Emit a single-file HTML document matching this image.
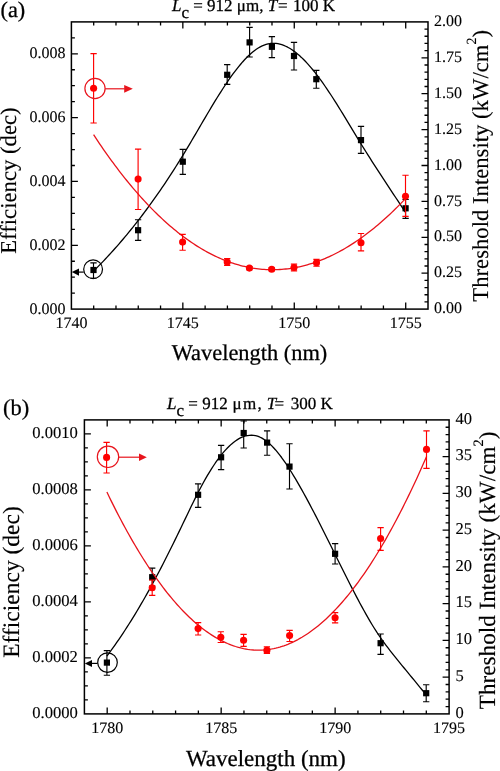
<!DOCTYPE html><html><head><meta charset="utf-8"><style>html,body{margin:0;padding:0;background:#fff;}svg{display:block;} text{font-family:"Liberation Serif","Times New Roman",serif;text-rendering:geometricPrecision;stroke:#000;stroke-width:0.28px;} text.t{stroke-width:0.12px;} text.v{stroke-width:0.15px;}</style></head><body><svg width="500" height="771" viewBox="0 0 500 771" font-family="Liberation Serif, Times New Roman, serif">
<rect width="500" height="771" fill="#fff"/>
<rect x="71.4" y="21.9" width="356.6" height="287.2" fill="none" stroke="#000" stroke-width="1.5"/>
<path d="M93.69 309.1v-3.5M93.69 21.9v3.5M115.98 309.1v-3.5M115.98 21.9v3.5M138.26 309.1v-3.5M138.26 21.9v3.5M160.55 309.1v-3.5M160.55 21.9v3.5M182.84 309.1v-6.5M182.84 21.9v6.5M205.13 309.1v-3.5M205.13 21.9v3.5M227.41 309.1v-3.5M227.41 21.9v3.5M249.7 309.1v-3.5M249.7 21.9v3.5M271.99 309.1v-3.5M271.99 21.9v3.5M294.27 309.1v-6.5M294.27 21.9v6.5M316.56 309.1v-3.5M316.56 21.9v3.5M338.85 309.1v-3.5M338.85 21.9v3.5M361.14 309.1v-3.5M361.14 21.9v3.5M383.43 309.1v-3.5M383.43 21.9v3.5M405.71 309.1v-6.5M405.71 21.9v6.5M71.4 293.14h3.5M71.4 277.19h3.5M71.4 261.23h3.5M71.4 245.28h6.5M71.4 229.32h3.5M71.4 213.37h3.5M71.4 197.41h3.5M71.4 181.46h6.5M71.4 165.5h3.5M71.4 149.54h3.5M71.4 133.59h3.5M71.4 117.63h6.5M71.4 101.68h3.5M71.4 85.72h3.5M71.4 69.77h3.5M71.4 53.81h6.5M71.4 37.86h3.5M428 301.92h-3.5M428 294.74h-3.5M428 287.56h-3.5M428 280.38h-3.5M428 273.2h-6.5M428 266.02h-3.5M428 258.84h-3.5M428 251.66h-3.5M428 244.48h-3.5M428 237.3h-6.5M428 230.12h-3.5M428 222.94h-3.5M428 215.76h-3.5M428 208.58h-3.5M428 201.4h-6.5M428 194.22h-3.5M428 187.04h-3.5M428 179.86h-3.5M428 172.68h-3.5M428 165.5h-6.5M428 158.32h-3.5M428 151.14h-3.5M428 143.96h-3.5M428 136.78h-3.5M428 129.6h-6.5M428 122.42h-3.5M428 115.24h-3.5M428 108.06h-3.5M428 100.88h-3.5M428 93.7h-6.5M428 86.52h-3.5M428 79.34h-3.5M428 72.16h-3.5M428 64.98h-3.5M428 57.8h-6.5M428 50.62h-3.5M428 43.44h-3.5M428 36.26h-3.5M428 29.08h-3.5" stroke="#000" stroke-width="1.3" fill="none"/>
<text x="71.4" y="327.6" text-anchor="middle" font-size="16" class="t">1740</text>
<text x="182.84" y="327.6" text-anchor="middle" font-size="16" class="t">1745</text>
<text x="294.27" y="327.6" text-anchor="middle" font-size="16" class="t">1750</text>
<text x="405.71" y="327.6" text-anchor="middle" font-size="16" class="t">1755</text>
<text x="65.4" y="313.7" text-anchor="end" font-size="16" class="t">0.000</text>
<text x="65.4" y="249.88" text-anchor="end" font-size="16" class="t">0.002</text>
<text x="65.4" y="186.06" text-anchor="end" font-size="16" class="t">0.004</text>
<text x="65.4" y="122.23" text-anchor="end" font-size="16" class="t">0.006</text>
<text x="65.4" y="58.41" text-anchor="end" font-size="16" class="t">0.008</text>
<text x="434" y="313.2" text-anchor="start" font-size="16" class="t">0.00</text>
<text x="434" y="277.3" text-anchor="start" font-size="16" class="t">0.25</text>
<text x="434" y="241.4" text-anchor="start" font-size="16" class="t">0.50</text>
<text x="434" y="205.5" text-anchor="start" font-size="16" class="t">0.75</text>
<text x="434" y="169.6" text-anchor="start" font-size="16" class="t">1.00</text>
<text x="434" y="133.7" text-anchor="start" font-size="16" class="t">1.25</text>
<text x="434" y="97.8" text-anchor="start" font-size="16" class="t">1.50</text>
<text x="434" y="61.9" text-anchor="start" font-size="16" class="t">1.75</text>
<text x="434" y="26" text-anchor="start" font-size="16" class="t">2.00</text>
<rect x="84.4" y="419.9" width="364.7" height="294" fill="none" stroke="#000" stroke-width="1.5"/>
<path d="M107.19 713.9v-6.5M107.19 419.9v6.5M129.99 713.9v-3.5M129.99 419.9v3.5M152.78 713.9v-3.5M152.78 419.9v3.5M175.58 713.9v-3.5M175.58 419.9v3.5M198.37 713.9v-3.5M198.37 419.9v3.5M221.16 713.9v-6.5M221.16 419.9v6.5M243.96 713.9v-3.5M243.96 419.9v3.5M266.75 713.9v-3.5M266.75 419.9v3.5M289.54 713.9v-3.5M289.54 419.9v3.5M312.34 713.9v-3.5M312.34 419.9v3.5M335.13 713.9v-6.5M335.13 419.9v6.5M357.93 713.9v-3.5M357.93 419.9v3.5M380.72 713.9v-3.5M380.72 419.9v3.5M403.51 713.9v-3.5M403.51 419.9v3.5M426.31 713.9v-3.5M426.31 419.9v3.5M84.4 699.9h3.5M84.4 685.9h3.5M84.4 671.9h3.5M84.4 657.9h6.5M84.4 643.9h3.5M84.4 629.9h3.5M84.4 615.9h3.5M84.4 601.9h6.5M84.4 587.9h3.5M84.4 573.9h3.5M84.4 559.9h3.5M84.4 545.9h6.5M84.4 531.9h3.5M84.4 517.9h3.5M84.4 503.9h3.5M84.4 489.9h6.5M84.4 475.9h3.5M84.4 461.9h3.5M84.4 447.9h3.5M84.4 433.9h6.5M449.1 706.55h-3.5M449.1 699.2h-3.5M449.1 691.85h-3.5M449.1 684.5h-3.5M449.1 677.15h-6.5M449.1 669.8h-3.5M449.1 662.45h-3.5M449.1 655.1h-3.5M449.1 647.75h-3.5M449.1 640.4h-6.5M449.1 633.05h-3.5M449.1 625.7h-3.5M449.1 618.35h-3.5M449.1 611h-3.5M449.1 603.65h-6.5M449.1 596.3h-3.5M449.1 588.95h-3.5M449.1 581.6h-3.5M449.1 574.25h-3.5M449.1 566.9h-6.5M449.1 559.55h-3.5M449.1 552.2h-3.5M449.1 544.85h-3.5M449.1 537.5h-3.5M449.1 530.15h-6.5M449.1 522.8h-3.5M449.1 515.45h-3.5M449.1 508.1h-3.5M449.1 500.75h-3.5M449.1 493.4h-6.5M449.1 486.05h-3.5M449.1 478.7h-3.5M449.1 471.35h-3.5M449.1 464h-3.5M449.1 456.65h-6.5M449.1 449.3h-3.5M449.1 441.95h-3.5M449.1 434.6h-3.5M449.1 427.25h-3.5" stroke="#000" stroke-width="1.3" fill="none"/>
<text x="107.19" y="732.9" text-anchor="middle" font-size="16" class="t">1780</text>
<text x="221.16" y="732.9" text-anchor="middle" font-size="16" class="t">1785</text>
<text x="335.13" y="732.9" text-anchor="middle" font-size="16" class="t">1790</text>
<text x="449.1" y="732.9" text-anchor="middle" font-size="16" class="t">1795</text>
<text x="77.9" y="718.1" text-anchor="end" font-size="16.6" class="t">0.0000</text>
<text x="77.9" y="662.1" text-anchor="end" font-size="16.6" class="t">0.0002</text>
<text x="77.9" y="606.1" text-anchor="end" font-size="16.6" class="t">0.0004</text>
<text x="77.9" y="550.1" text-anchor="end" font-size="16.6" class="t">0.0006</text>
<text x="77.9" y="494.1" text-anchor="end" font-size="16.6" class="t">0.0008</text>
<text x="77.9" y="438.1" text-anchor="end" font-size="16.6" class="t">0.0010</text>
<text x="455.6" y="717.7" text-anchor="start" font-size="16.5" class="t">0</text>
<text x="455.6" y="680.95" text-anchor="start" font-size="16.5" class="t">5</text>
<text x="455.6" y="644.2" text-anchor="start" font-size="16.5" class="t">10</text>
<text x="455.6" y="607.45" text-anchor="start" font-size="16.5" class="t">15</text>
<text x="455.6" y="570.7" text-anchor="start" font-size="16.5" class="t">20</text>
<text x="455.6" y="533.95" text-anchor="start" font-size="16.5" class="t">25</text>
<text x="455.6" y="497.2" text-anchor="start" font-size="16.5" class="t">30</text>
<text x="455.6" y="460.45" text-anchor="start" font-size="16.5" class="t">35</text>
<text x="455.6" y="423.7" text-anchor="start" font-size="16.5" class="t">40</text>
<polyline points="93.6,271.06 95.56,269.12 97.52,267.14 99.48,265.15 101.44,263.13 103.4,261.08 105.36,259.01 107.32,256.92 109.28,254.8 111.24,252.65 113.2,250.48 115.16,248.29 117.12,246.06 119.08,243.82 121.05,241.54 123.01,239.24 124.97,236.91 126.93,234.56 128.89,232.18 130.85,229.77 132.81,227.34 134.77,224.87 136.73,222.38 138.69,219.87 140.65,217.32 142.61,214.75 144.57,212.15 146.53,209.51 148.49,206.86 150.45,204.17 152.41,201.45 154.37,198.7 156.33,195.93 158.29,193.12 160.25,190.29 162.21,187.43 164.17,184.53 166.13,181.61 168.09,178.65 170.05,175.67 172.02,172.65 173.98,169.6 175.94,166.52 177.9,163.41 179.86,160.27 181.82,157.1 183.78,153.9 185.74,150.66 187.7,147.39 189.66,144.1 191.62,140.78 193.58,137.45 195.54,134.11 197.5,130.75 199.46,127.4 201.42,124.04 203.38,120.69 205.34,117.35 207.3,114.02 209.26,110.72 211.22,107.43 213.18,104.18 215.14,100.96 217.1,97.78 219.06,94.64 221.02,91.54 222.98,88.5 224.95,85.51 226.91,82.59 228.87,79.73 230.83,76.94 232.79,74.22 234.75,71.59 236.71,69.04 238.67,66.58 240.63,64.22 242.59,61.95 244.55,59.79 246.51,57.74 248.47,55.81 250.43,53.99 252.39,52.3 254.35,50.74 256.31,49.32 258.27,48.03 260.23,46.89 262.19,45.9 264.15,45.06 266.11,44.38 268.07,43.87 270.03,43.52 271.99,43.33 273.95,43.3 275.92,43.43 277.88,43.7 279.84,44.12 281.8,44.69 283.76,45.39 285.72,46.23 287.68,47.2 289.64,48.3 291.6,49.53 293.56,50.87 295.52,52.34 297.48,53.91 299.44,55.6 301.4,57.4 303.36,59.3 305.32,61.3 307.28,63.4 309.24,65.58 311.2,67.86 313.16,70.23 315.12,72.67 317.08,75.19 319.04,77.79 321,80.46 322.96,83.2 324.92,86 326.88,88.86 328.85,91.77 330.81,94.74 332.77,97.76 334.73,100.83 336.69,103.93 338.65,107.07 340.61,110.24 342.57,113.44 344.53,116.65 346.49,119.89 348.45,123.13 350.41,126.38 352.37,129.63 354.33,132.87 356.29,136.11 358.25,139.33 360.21,142.54 362.17,145.72 364.13,148.87 366.09,152.01 368.05,155.12 370.01,158.21 371.97,161.28 373.93,164.33 375.89,167.37 377.85,170.4 379.82,173.41 381.78,176.41 383.74,179.41 385.7,182.39 387.66,185.37 389.62,188.35 391.58,191.32 393.54,194.29 395.5,197.25 397.46,200.22 399.42,203.2 401.38,206.18 403.34,209.16 405.3,212.15" fill="none" stroke="#000" stroke-width="1.3" stroke-linejoin="round"/>
<path d="M93.5 262.8V278.2M90.35 262.8h6.3M90.35 278.2h6.3M138.1 219.7V240.4M134.95 219.7h6.3M134.95 240.4h6.3M182.8 149.4V174.3M179.65 149.4h6.3M179.65 174.3h6.3M227.2 64.6V84.4M224.05 64.6h6.3M224.05 84.4h6.3M249.6 27.4V57M246.45 27.4h6.3M246.45 57h6.3M271.9 36.6V57.6M268.75 36.6h6.3M268.75 57.6h6.3M294 42.4V70M290.85 42.4h6.3M290.85 70h6.3M316.3 70.4V88.2M313.15 70.4h6.3M313.15 88.2h6.3M361 126.3V153.3M357.85 126.3h6.3M357.85 153.3h6.3M405.6 199.5V218.3M402.45 199.5h6.3M402.45 218.3h6.3" stroke="#000" stroke-width="1.15" fill="none"/>
<rect x="90.4" y="266.9" width="6.2" height="6.2" fill="#000"/>
<rect x="135" y="227.1" width="6.2" height="6.2" fill="#000"/>
<rect x="179.7" y="158.6" width="6.2" height="6.2" fill="#000"/>
<rect x="224.1" y="71.7" width="6.2" height="6.2" fill="#000"/>
<rect x="246.5" y="39.3" width="6.2" height="6.2" fill="#000"/>
<rect x="268.8" y="43.7" width="6.2" height="6.2" fill="#000"/>
<rect x="290.9" y="52.9" width="6.2" height="6.2" fill="#000"/>
<rect x="313.2" y="76.1" width="6.2" height="6.2" fill="#000"/>
<rect x="357.9" y="137" width="6.2" height="6.2" fill="#000"/>
<rect x="402.5" y="205.2" width="6.2" height="6.2" fill="#000"/>
<polyline points="93.6,134.7 95.56,137.68 97.52,140.63 99.48,143.54 101.44,146.41 103.4,149.26 105.36,152.07 107.32,154.84 109.28,157.58 111.24,160.29 113.2,162.97 115.16,165.61 117.12,168.21 119.08,170.79 121.05,173.32 123.01,175.83 124.97,178.3 126.93,180.74 128.89,183.14 130.85,185.51 132.81,187.85 134.77,190.15 136.73,192.42 138.69,194.66 140.65,196.86 142.61,199.03 144.57,201.17 146.53,203.27 148.49,205.34 150.45,207.38 152.41,209.38 154.37,211.35 156.33,213.29 158.29,215.19 160.25,217.06 162.21,218.9 164.17,220.7 166.13,222.47 168.09,224.21 170.05,225.92 172.02,227.59 173.98,229.23 175.94,230.83 177.9,232.41 179.86,233.95 181.82,235.45 183.78,236.93 185.74,238.37 187.7,239.78 189.66,241.15 191.62,242.5 193.58,243.81 195.54,245.09 197.5,246.33 199.46,247.54 201.42,248.72 203.38,249.87 205.34,250.99 207.3,252.07 209.26,253.12 211.22,254.14 213.18,255.12 215.14,256.07 217.1,256.99 219.06,257.88 221.02,258.74 222.98,259.56 224.95,260.35 226.91,261.11 228.87,261.84 230.83,262.53 232.79,263.19 234.75,263.82 236.71,264.42 238.67,264.99 240.63,265.52 242.59,266.02 244.55,266.49 246.51,266.93 248.47,267.34 250.43,267.71 252.39,268.05 254.35,268.36 256.31,268.64 258.27,268.89 260.23,269.1 262.19,269.29 264.15,269.44 266.11,269.56 268.07,269.65 270.03,269.7 271.99,269.73 273.95,269.72 275.92,269.69 277.88,269.62 279.84,269.51 281.8,269.38 283.76,269.22 285.72,269.02 287.68,268.8 289.64,268.54 291.6,268.25 293.56,267.93 295.52,267.58 297.48,267.19 299.44,266.78 301.4,266.33 303.36,265.86 305.32,265.35 307.28,264.81 309.24,264.24 311.2,263.64 313.16,263.01 315.12,262.34 317.08,261.65 319.04,260.92 321,260.17 322.96,259.38 324.92,258.56 326.88,257.72 328.85,256.84 330.81,255.93 332.77,254.99 334.73,254.02 336.69,253.01 338.65,251.98 340.61,250.92 342.57,249.82 344.53,248.7 346.49,247.54 348.45,246.36 350.41,245.14 352.37,243.9 354.33,242.62 356.29,241.31 358.25,239.97 360.21,238.6 362.17,237.21 364.13,235.78 366.09,234.32 368.05,232.83 370.01,231.31 371.97,229.76 373.93,228.18 375.89,226.57 377.85,224.93 379.82,223.26 381.78,221.56 383.74,219.83 385.7,218.07 387.66,216.28 389.62,214.46 391.58,212.61 393.54,210.73 395.5,208.82 397.46,206.88 399.42,204.91 401.38,202.91 403.34,200.88 405.3,198.82" fill="none" stroke="#e8141c" stroke-width="1.3" stroke-linejoin="round"/>
<path d="M93.6 53.6V123M90.45 53.6h6.3M90.45 123h6.3M138.1 149.1V209.5M134.95 149.1h6.3M134.95 209.5h6.3M182.6 234.3V250.2M179.45 234.3h6.3M179.45 250.2h6.3M227.2 258.6V265.4M224.05 258.6h6.3M224.05 265.4h6.3M249.4 266.5V269.7M246.25 266.5h6.3M246.25 269.7h6.3M271.7 267.8V270.6M268.55 267.8h6.3M268.55 270.6h6.3M294 264.1V270.9M290.85 264.1h6.3M290.85 270.9h6.3M316.5 259.4V266.2M313.35 259.4h6.3M313.35 266.2h6.3M361 233.5V250.8M357.85 233.5h6.3M357.85 250.8h6.3M405.5 175.2V216.3M402.35 175.2h6.3M402.35 216.3h6.3" stroke="#ff0000" stroke-width="1.15" fill="none"/>
<circle cx="93.6" cy="88.2" r="3.55" fill="#ff0000"/>
<circle cx="138.1" cy="179.1" r="3.55" fill="#ff0000"/>
<circle cx="182.6" cy="242.1" r="3.55" fill="#ff0000"/>
<circle cx="227.2" cy="262" r="3.55" fill="#ff0000"/>
<circle cx="249.4" cy="268.1" r="3.55" fill="#ff0000"/>
<circle cx="271.7" cy="269.2" r="3.55" fill="#ff0000"/>
<circle cx="294" cy="267.5" r="3.55" fill="#ff0000"/>
<circle cx="316.5" cy="262.8" r="3.55" fill="#ff0000"/>
<circle cx="361" cy="242.7" r="3.55" fill="#ff0000"/>
<circle cx="405.5" cy="196.3" r="3.55" fill="#ff0000"/>
<circle cx="95" cy="88.5" r="10.1" fill="none" stroke="#e8141c" stroke-width="1.2"/>
<path d="M105.1 88.8H124.7" stroke="#e8141c" stroke-width="1.2"/>
<path d="M132.8 88.8L124.2 84.9V92.7Z" fill="#e8141c"/>
<circle cx="93.1" cy="269.2" r="9.4" fill="none" stroke="#000" stroke-width="1.2"/>
<path d="M83.7 272.1H78.5" stroke="#000" stroke-width="1.2"/>
<path d="M71.8 272.1L79 268.4V275.8Z" fill="#000"/>
<polyline points="106.9,656.18 108.91,653.47 110.92,650.73 112.92,647.93 114.93,645.1 116.94,642.22 118.95,639.29 120.96,636.32 122.97,633.31 124.97,630.25 126.98,627.15 128.99,624 131,620.81 133.01,617.57 135.01,614.29 137.02,610.97 139.03,607.6 141.04,604.18 143.05,600.72 145.06,597.22 147.06,593.67 149.07,590.07 151.08,586.44 153.09,582.75 155.1,579.02 157.1,575.25 159.11,571.43 161.12,567.58 163.13,563.68 165.14,559.75 167.15,555.78 169.15,551.78 171.16,547.75 173.17,543.69 175.18,539.61 177.19,535.5 179.19,531.37 181.2,527.22 183.21,523.05 185.22,518.87 187.23,514.67 189.24,510.49 191.24,506.32 193.25,502.2 195.26,498.13 197.27,494.14 199.28,490.24 201.28,486.44 203.29,482.74 205.3,479.16 207.31,475.68 209.32,472.33 211.33,469.09 213.33,465.98 215.34,462.99 217.35,460.14 219.36,457.42 221.37,454.83 223.37,452.39 225.38,450.1 227.39,447.96 229.4,445.97 231.41,444.13 233.42,442.46 235.42,440.95 237.43,439.6 239.44,438.43 241.45,437.44 243.46,436.62 245.46,435.99 247.47,435.54 249.48,435.28 251.49,435.22 253.5,435.35 255.51,435.68 257.51,436.22 259.52,436.97 261.53,437.92 263.54,439.09 265.55,440.45 267.55,442 269.56,443.74 271.57,445.65 273.58,447.72 275.59,449.95 277.59,452.33 279.6,454.86 281.61,457.51 283.62,460.3 285.63,463.19 287.64,466.2 289.64,469.31 291.65,472.51 293.66,475.8 295.67,479.16 297.68,482.59 299.68,486.08 301.69,489.63 303.7,493.24 305.71,496.91 307.72,500.62 309.73,504.38 311.73,508.18 313.74,512.03 315.75,515.9 317.76,519.82 319.77,523.75 321.77,527.72 323.78,531.71 325.79,535.71 327.8,539.73 329.81,543.76 331.82,547.8 333.82,551.84 335.83,555.89 337.84,559.93 339.85,563.97 341.86,567.99 343.86,572 345.87,576 347.88,579.98 349.89,583.93 351.9,587.86 353.91,591.75 355.91,595.61 357.92,599.42 359.93,603.19 361.94,606.9 363.95,610.56 365.95,614.15 367.96,617.66 369.97,621.1 371.98,624.46 373.99,627.73 376,630.91 378,633.99 380.01,636.96 382.02,639.83 384.03,642.61 386.04,645.31 388.04,647.94 390.05,650.53 392.06,653.08 394.07,655.6 396.08,658.11 398.09,660.6 400.09,663.07 402.1,665.54 404.11,668 406.12,670.45 408.13,672.89 410.13,675.33 412.14,677.77 414.15,680.21 416.16,682.65 418.17,685.09 420.18,687.54 422.18,689.99 424.19,692.46 426.2,694.94" fill="none" stroke="#000" stroke-width="1.3" stroke-linejoin="round"/>
<path d="M106.9 650.6V675.2M103.75 650.6h6.3M103.75 675.2h6.3M152.2 568.1V586M149.05 568.1h6.3M149.05 586h6.3M198.1 483.8V507.3M194.95 483.8h6.3M194.95 507.3h6.3M221.1 445.3V469.6M217.95 445.3h6.3M217.95 469.6h6.3M243.7 421V448M240.55 421h6.3M240.55 448h6.3M267.1 430.9V455.2M263.95 430.9h6.3M263.95 455.2h6.3M289.5 443.7V489M286.35 443.7h6.3M286.35 489h6.3M335.1 543.6V564M331.95 543.6h6.3M331.95 564h6.3M380.6 634V654.4M377.45 634h6.3M377.45 654.4h6.3M426.2 684.7V701.7M423.05 684.7h6.3M423.05 701.7h6.3" stroke="#000" stroke-width="1.15" fill="none"/>
<rect x="103.8" y="659.5" width="6.2" height="6.2" fill="#000"/>
<rect x="149.1" y="574.1" width="6.2" height="6.2" fill="#000"/>
<rect x="195" y="491.7" width="6.2" height="6.2" fill="#000"/>
<rect x="218" y="454.2" width="6.2" height="6.2" fill="#000"/>
<rect x="240.6" y="429.9" width="6.2" height="6.2" fill="#000"/>
<rect x="264" y="439.5" width="6.2" height="6.2" fill="#000"/>
<rect x="286.4" y="463.5" width="6.2" height="6.2" fill="#000"/>
<rect x="332" y="550.7" width="6.2" height="6.2" fill="#000"/>
<rect x="377.5" y="640.1" width="6.2" height="6.2" fill="#000"/>
<rect x="423.1" y="690.1" width="6.2" height="6.2" fill="#000"/>
<polyline points="106.9,492.08 108.91,496.24 110.92,500.35 112.93,504.4 114.94,508.39 116.95,512.33 118.96,516.21 120.97,520.04 122.99,523.82 125,527.53 127.01,531.2 129.02,534.8 131.03,538.35 133.04,541.85 135.05,545.29 137.06,548.67 139.07,552 141.08,555.28 143.09,558.49 145.1,561.66 147.11,564.76 149.12,567.81 151.14,570.81 153.15,573.75 155.16,576.63 157.17,579.46 159.18,582.24 161.19,584.96 163.2,587.62 165.21,590.23 167.22,592.78 169.23,595.27 171.24,597.71 173.25,600.1 175.26,602.43 177.27,604.7 179.28,606.92 181.3,609.08 183.31,611.19 185.32,613.24 187.33,615.24 189.34,617.18 191.35,619.07 193.36,620.9 195.37,622.67 197.38,624.39 199.39,626.05 201.4,627.66 203.41,629.21 205.42,630.71 207.43,632.15 209.45,633.54 211.46,634.87 213.47,636.14 215.48,637.36 217.49,638.52 219.5,639.63 221.51,640.69 223.52,641.68 225.53,642.62 227.54,643.51 229.55,644.34 231.56,645.12 233.57,645.84 235.58,646.5 237.59,647.11 239.61,647.66 241.62,648.16 243.63,648.6 245.64,648.99 247.65,649.32 249.66,649.59 251.67,649.81 253.68,649.98 255.69,650.09 257.7,650.14 259.71,650.14 261.72,650.08 263.73,649.97 265.74,649.8 267.76,649.57 269.77,649.29 271.78,648.96 273.79,648.57 275.8,648.12 277.81,647.62 279.82,647.06 281.83,646.45 283.84,645.78 285.85,645.06 287.86,644.28 289.87,643.44 291.88,642.55 293.89,641.61 295.91,640.6 297.92,639.55 299.93,638.43 301.94,637.27 303.95,636.04 305.96,634.76 307.97,633.43 309.98,632.04 311.99,630.59 314,629.09 316.01,627.54 318.02,625.92 320.03,624.26 322.04,622.53 324.05,620.75 326.07,618.92 328.08,617.03 330.09,615.08 332.1,613.08 334.11,611.03 336.12,608.92 338.13,606.75 340.14,604.53 342.15,602.25 344.16,599.91 346.17,597.52 348.18,595.08 350.19,592.58 352.2,590.02 354.22,587.41 356.23,584.74 358.24,582.02 360.25,579.24 362.26,576.41 364.27,573.52 366.28,570.58 368.29,567.58 370.3,564.52 372.31,561.41 374.32,558.24 376.33,555.02 378.34,551.74 380.35,548.41 382.36,545.02 384.38,541.58 386.39,538.08 388.4,534.52 390.41,530.91 392.42,527.24 394.43,523.52 396.44,519.74 398.45,515.91 400.46,512.02 402.47,508.08 404.48,504.08 406.49,500.02 408.5,495.91 410.51,491.75 412.53,487.53 414.54,483.25 416.55,478.92 418.56,474.53 420.57,470.09 422.58,465.59 424.59,461.03 426.6,456.42" fill="none" stroke="#e8141c" stroke-width="1.3" stroke-linejoin="round"/>
<path d="M106.6 442.4V473M103.45 442.4h6.3M103.45 473h6.3M152.2 580V595.3M149.05 580h6.3M149.05 595.3h6.3M198.1 622.6V635M194.95 622.6h6.3M194.95 635h6.3M220.8 631.7V642.5M217.65 631.7h6.3M217.65 642.5h6.3M243.6 634.3V646.3M240.45 634.3h6.3M240.45 646.3h6.3M266.9 646.8V653.3M263.75 646.8h6.3M263.75 653.3h6.3M289.6 630.4V641.5M286.45 630.4h6.3M286.45 641.5h6.3M335.1 612.6V622.8M331.95 612.6h6.3M331.95 622.8h6.3M380.6 527.6V550.4M377.45 527.6h6.3M377.45 550.4h6.3M426.5 430.9V468.4M423.35 430.9h6.3M423.35 468.4h6.3" stroke="#ff0000" stroke-width="1.15" fill="none"/>
<circle cx="106.6" cy="457.4" r="3.55" fill="#ff0000"/>
<circle cx="152.2" cy="587.8" r="3.55" fill="#ff0000"/>
<circle cx="198.1" cy="628.6" r="3.55" fill="#ff0000"/>
<circle cx="220.8" cy="637.2" r="3.55" fill="#ff0000"/>
<circle cx="243.6" cy="640.3" r="3.55" fill="#ff0000"/>
<circle cx="266.9" cy="650.4" r="3.55" fill="#ff0000"/>
<circle cx="289.6" cy="635.6" r="3.55" fill="#ff0000"/>
<circle cx="335.1" cy="617.7" r="3.55" fill="#ff0000"/>
<circle cx="380.6" cy="538.5" r="3.55" fill="#ff0000"/>
<circle cx="426.5" cy="449.4" r="3.55" fill="#ff0000"/>
<circle cx="108" cy="456.8" r="10.7" fill="none" stroke="#e8141c" stroke-width="1.2"/>
<path d="M118.7 457.2H139.5" stroke="#e8141c" stroke-width="1.2"/>
<path d="M146.8 457.2L139 453.4V461Z" fill="#e8141c"/>
<circle cx="107.5" cy="662.6" r="9.8" fill="none" stroke="#000" stroke-width="1.2"/>
<path d="M97.7 663.4H91.5" stroke="#000" stroke-width="1.2"/>
<path d="M84.8 663.4L92 659.9V666.9Z" fill="#000"/>
<text x="172" y="11.3" font-size="17"><tspan font-style="italic">L</tspan><tspan dy="7">c</tspan><tspan dy="-7"> = 912 </tspan><tspan dx="0">μ</tspan><tspan dx="0">m</tspan><tspan dx="0">, </tspan><tspan font-style="italic" dx="0">T</tspan><tspan dx="0.8">=</tspan><tspan dx="1.2"> 100 K</tspan></text>
<text x="167.1" y="408.7" font-size="17"><tspan font-style="italic">L</tspan><tspan dy="7">c</tspan><tspan dy="-7"> = 912 </tspan><tspan dx="0.6">μ</tspan><tspan dx="1.4">m</tspan><tspan dx="1.2">, </tspan><tspan font-style="italic" dx="0.7">T</tspan><tspan dx="-1.7">=</tspan><tspan dx="2.4"> 300 K</tspan></text>
<text x="0.5" y="17.3" font-size="22.3">(a)</text>
<text x="3" y="414.6" font-size="22.5">(b)</text>
<text x="249.5" y="360.0" text-anchor="middle" font-size="22.4">Wavelength (nm)</text>
<text x="265.8" y="765.6" text-anchor="middle" font-size="23">Wavelength (nm)</text>
<text transform="translate(15.6,180.6) rotate(-90)" text-anchor="middle" font-size="22.7" class="v">Efficiency (dec)</text>
<text transform="translate(19.0,582.0) rotate(-90)" text-anchor="middle" font-size="23.5" class="v">Efficiency (dec)</text>
<text transform="translate(488.3,165.85) rotate(-90)" text-anchor="middle" font-size="22.7" class="v">Threshold Intensity (kW/cm<tspan dy="-12.3" font-size="14">2</tspan><tspan dy="12.3">)</tspan></text>
<text transform="translate(494.5,570.45) rotate(-90)" text-anchor="middle" font-size="23.2" class="v">Threshold Intensity (kW/cm<tspan dy="-12" font-size="14.3">2</tspan><tspan dy="12">)</tspan></text>
</svg></body></html>
